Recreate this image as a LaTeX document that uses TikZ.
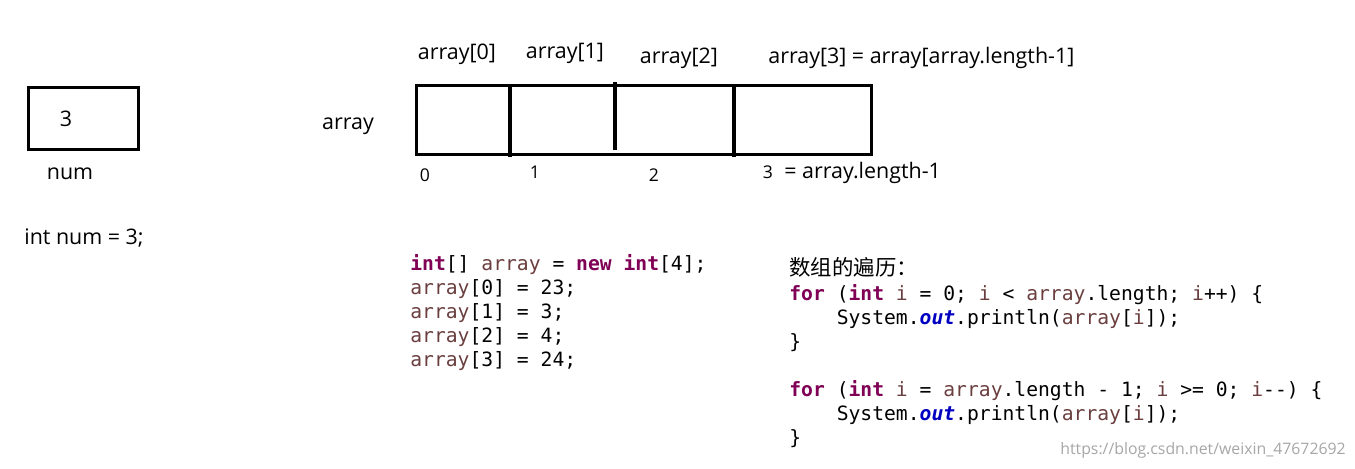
\documentclass[tikz,border=0pt]{standalone}
\usepackage{fontspec}
\setmainfont{Open Sans}
\setmonofont{DejaVu Sans Mono}
\newfontfamily\cjk{Noto Sans CJK SC}
\definecolor{kw}{HTML}{7F0055}
\definecolor{vr}{HTML}{6A3E3E}
\definecolor{fld}{HTML}{0000C0}
\newcommand{\K}[1]{\textcolor{kw}{\textbf{#1}}}
\newcommand{\V}[1]{\textcolor{vr}{#1}}
\newcommand{\F}[1]{\textcolor{fld}{\textbf{\textit{#1}}}}
\begin{document}
\begin{tikzpicture}[x=0.02cm,y=-0.02cm,
  lbl/.style={inner sep=0pt,font=\fontsize{12.2pt}{14pt}\selectfont},
  code/.style={inner sep=0pt,anchor=west,font=\ttfamily\fontsize{11.2pt}{13pt}\selectfont},
  box/.style={draw,line width=1.8pt}]
\useasboundingbox (0,0) rectangle (1355,468);
\node[box,minimum width=110*0.02cm,minimum height=62*0.02cm,anchor=north west] (num) at (27,86) {};
\node[lbl] (n3) at (66,119) {3};
\node[lbl] (nl) at (70,174) {num};
\node[lbl,anchor=west] (decl) at (24,238) {int num = 3;};
\node[lbl] (al) at (348,126) {array};
\node[box,minimum width=455*0.02cm,minimum height=69*0.02cm,anchor=north west] (arr) at (415,84) {};
\coordinate (d1t) at (510,84); \coordinate (d1b) at (510,157);
\coordinate (d2t) at (615,82); \coordinate (d2b) at (615,150);
\coordinate (d3t) at (734,84); \coordinate (d3b) at (734,157);
\draw[line width=2pt] (d1t)--(d1b) (d2t)--(d2b) (d3t)--(d3b);
\node[lbl] (a0) at (457,54) {array[0]};
\node[lbl] (a1) at (565,53) {array[1]};
\node[lbl] (a2) at (679,58) {array[2]};
\node[lbl,anchor=west] (a3) at (768,58) {array[3] = array[array.length-1]};
\node[lbl,font=\fontsize{10pt}{12pt}\selectfont] (i0) at (425,175) {0};
\node[lbl,font=\fontsize{10pt}{12pt}\selectfont] (i1) at (535,172) {1};
\node[lbl,font=\fontsize{10pt}{12pt}\selectfont] (i2) at (654,175) {2};
\node[lbl,font=\fontsize{10pt}{12pt}\selectfont] (i3) at (768,172) {3};
\node[lbl,anchor=west] (il) at (784,173) {= array.length-1};
\node[code] (c1) at (410,265) {\K{int}[] \V{array} = \K{new} \K{int}[4];};
\node[code] (c2) at (410,289) {\V{array}[0] = 23;};
\node[code] (c3) at (410,313) {\V{array}[1] = 3;};
\node[code] (c4) at (410,337) {\V{array}[2] = 4;};
\node[code] (c5) at (410,361) {\V{array}[3] = 24;};
\node[lbl,anchor=west] (t) at (789,267) {\cjk 数组的遍历：};
\node[code] (r1) at (789,295) {\K{for} (\K{int} \V{i} = 0; \V{i} < \V{array}.length; \V{i}++) \{};
\node[code] (r2) at (789,319) {\ \ \ \ System.\F{out}.println(\V{array}[\V{i}]);};
\node[code] (r3) at (789,343) {\}};
\node[code] (r4) at (789,391) {\K{for} (\K{int} \V{i} = \V{array}.length - 1; \V{i} >= 0; \V{i}--) \{};
\node[code] (r5) at (789,415) {\ \ \ \ System.\F{out}.println(\V{array}[\V{i}]);};
\node[code] (r6) at (789,439) {\}};
\node[inner sep=0pt,anchor=east,text=black!35,font=\fontsize{9pt}{10pt}\selectfont] (wm) at (1346,450) {https://blog.csdn.net/weixin\_47672692};
\end{tikzpicture}
\end{document}
